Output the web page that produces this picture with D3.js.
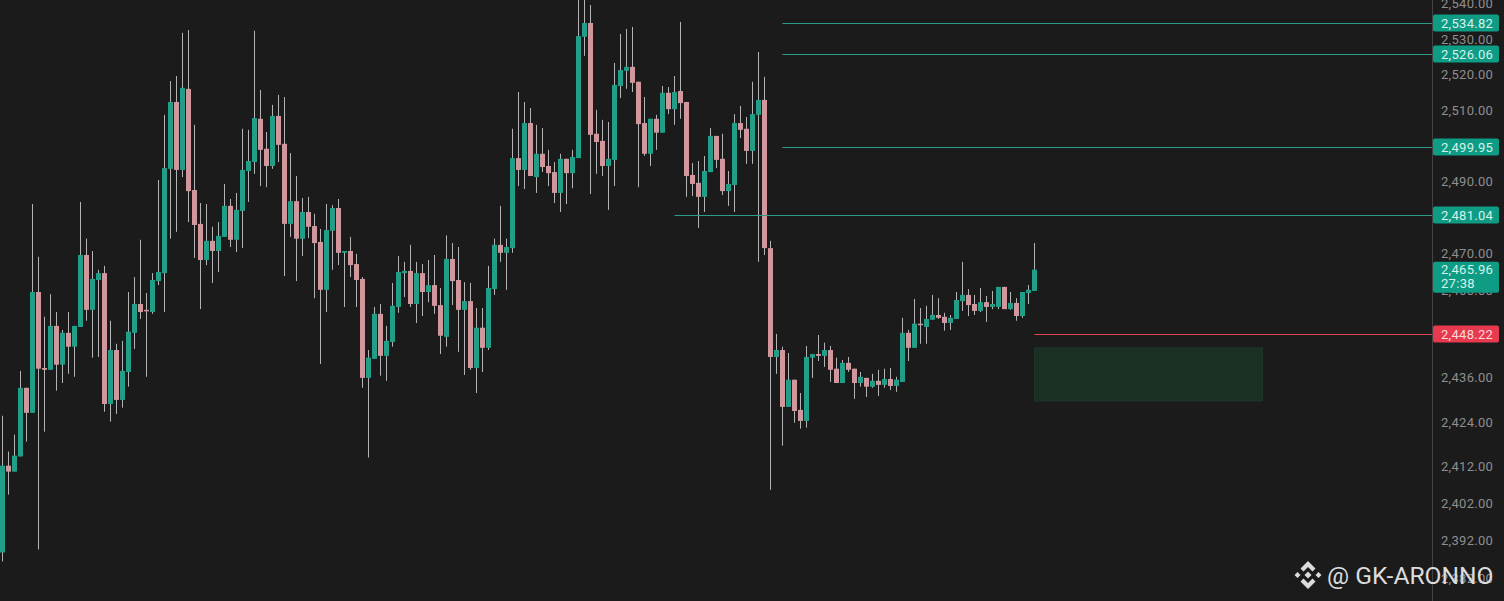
<!DOCTYPE html>
<html><head><meta charset="utf-8">
<script src="https://cdn.jsdelivr.net/npm/d3@7"></script>
<style>html,body{margin:0;padding:0;background:#1b1b1c;overflow:hidden}svg{display:block}</style>
</head><body><svg id="c" width="1504" height="601"></svg>
<script>
const opens=[2389.2,2412.5,2410.9,2415.0,2433.6,2426.8,2459.8,2439.0,2438.5,2450.5,2439.9,2448.6,2444.8,2450.2,2470.0,2454.9,2463.1,2465.0,2429.2,2443.9,2430.3,2437.9,2448.6,2456.5,2454.9,2454.3,2462.8,2465.0,2493.9,2512.6,2493.6,2516.3,2488.0,2478.6,2468.6,2473.9,2471.1,2475.0,2483.6,2474.2,2482.2,2493.3,2495.8,2507.9,2499.5,2494.7,2508.7,2500.9,2478.6,2484.9,2474.5,2481.9,2478.0,2473.6,2460.4,2476.7,2483.0,2470.6,2471.1,2467.5,2463.4,2436.3,2441.5,2453.8,2442.3,2446.1,2455.7,2465.0,2465.6,2456.5,2465.0,2459.8,2461.7,2456.2,2447.5,2468.9,2463.1,2454.9,2457.3,2439.0,2450.0,2444.5,2460.6,2472.8,2470.6,2471.9,2496.9,2493.6,2506.7,2491.6,2498.1,2494.7,2493.0,2487.2,2496.7,2492.7,2496.9,2531.0,2534.9,2503.7,2501.7,2494.7,2496.4,2517.1,2521.4,2522.5,2518.3,2506.7,2498.1,2507.9,2504.0,2515.2,2510.6,2515.7,2512.6,2492.2,2490.0,2486.1,2493.0,2503.1,2496.7,2487.7,2489.4,2506.7,2505.1,2498.9,2509.0,2513.2,2471.9,2442.0,2443.9,2428.4,2435.8,2427.6,2424.6,2441.8,2442.8,2442.3,2443.9,2438.8,2434.9,2440.4,2438.8,2434.9,2436.3,2433.9,2435.5,2434.4,2436.0,2434.1,2435.2,2448.6,2444.5,2451.1,2450.2,2452.2,2453.5,2453.0,2451.3,2452.4,2457.3,2459.0,2456.5,2454.6,2457.0,2455.7,2455.7,2461.2,2455.1,2456.8,2453.2,2459.5,2460.1];
const highs=[2426.0,2416.3,2420.9,2438.2,2433.6,2484.1,2469.5,2453.0,2459.2,2454.3,2449.4,2454.3,2450.5,2484.7,2474.5,2471.1,2465.9,2467.0,2451.9,2445.6,2446.4,2459.8,2463.9,2474.2,2459.5,2465.0,2490.8,2509.0,2518.5,2519.9,2532.1,2532.9,2506.2,2484.4,2484.1,2477.8,2479.1,2489.7,2485.5,2487.2,2505.1,2504.8,2532.7,2516.0,2504.2,2511.8,2514.6,2514.0,2498.3,2491.9,2485.8,2486.1,2481.4,2477.2,2484.1,2483.8,2485.5,2471.1,2475.0,2470.3,2463.9,2443.9,2455.7,2456.5,2450.5,2462.3,2469.7,2468.1,2472.8,2468.1,2467.5,2468.6,2470.0,2460.9,2475.4,2473.3,2472.2,2462.5,2462.3,2455.4,2455.4,2467.0,2474.5,2483.6,2474.5,2505.1,2515.4,2512.6,2510.9,2506.2,2505.3,2499.2,2495.8,2498.1,2496.7,2499.2,2542.3,2542.3,2540.0,2510.4,2507.6,2507.0,2523.6,2531.8,2533.2,2533.8,2518.3,2514.0,2507.9,2509.0,2517.1,2516.8,2519.9,2535.2,2512.6,2495.5,2496.1,2497.5,2505.3,2503.1,2503.7,2493.3,2509.2,2511.5,2508.4,2518.3,2526.7,2519.7,2473.9,2448.3,2444.8,2443.1,2435.8,2432.2,2445.0,2442.8,2448.0,2445.9,2445.0,2441.8,2441.2,2442.0,2438.8,2437.9,2436.3,2437.4,2438.5,2438.8,2439.0,2436.6,2452.7,2449.4,2457.9,2455.4,2456.0,2459.0,2458.1,2454.1,2453.5,2459.8,2468.1,2460.6,2459.0,2460.9,2458.7,2460.1,2461.2,2461.2,2459.8,2458.1,2459.8,2461.7,2473.3];
const lows=[2386.8,2404.7,2410.9,2415.0,2419.0,2426.8,2390.0,2421.7,2438.5,2432.8,2434.9,2437.4,2436.6,2450.2,2451.9,2441.8,2442.0,2427.1,2424.4,2426.5,2428.2,2433.9,2444.2,2452.4,2436.6,2453.8,2461.7,2454.3,2474.5,2476.4,2491.6,2479.1,2469.2,2455.1,2467.2,2462.3,2465.3,2475.0,2472.2,2470.8,2471.9,2484.7,2492.5,2489.1,2488.8,2493.9,2495.8,2464.2,2475.0,2462.8,2469.7,2474.7,2458.1,2440.1,2454.3,2465.9,2467.2,2455.7,2463.9,2455.7,2433.6,2414.7,2441.5,2436.9,2435.5,2444.8,2454.1,2458.4,2455.7,2451.3,2453.2,2457.0,2453.8,2442.8,2444.8,2456.2,2443.4,2437.1,2438.5,2432.2,2437.9,2443.9,2459.0,2468.1,2460.4,2470.6,2489.1,2488.3,2491.9,2487.2,2493.0,2489.1,2484.4,2481.9,2484.1,2488.5,2496.9,2525.6,2486.9,2492.5,2491.9,2482.5,2489.1,2513.7,2516.3,2515.4,2488.8,2497.5,2494.7,2499.2,2504.0,2509.2,2506.2,2507.9,2486.1,2486.3,2477.5,2481.9,2493.0,2494.1,2486.6,2483.6,2481.9,2502.5,2495.3,2495.3,2468.1,2470.0,2406.0,2437.4,2417.9,2428.4,2424.1,2422.5,2422.8,2436.3,2440.9,2439.3,2435.2,2434.9,2434.9,2437.9,2430.6,2433.9,2431.1,2433.6,2431.4,2433.6,2433.0,2432.5,2435.2,2440.9,2444.5,2445.6,2445.6,2452.2,2452.4,2449.2,2449.4,2452.4,2454.6,2453.2,2453.5,2454.3,2451.6,2455.1,2455.1,2455.1,2454.9,2451.9,2452.7,2456.5,2460.1];
const closes=[2412.5,2410.9,2415.2,2433.6,2426.8,2459.8,2438.8,2438.5,2450.5,2439.9,2448.6,2444.8,2450.5,2470.0,2454.9,2463.4,2465.0,2429.2,2443.9,2430.3,2438.2,2448.9,2456.5,2454.3,2454.6,2463.1,2465.3,2494.1,2512.6,2493.6,2516.6,2487.7,2478.3,2468.6,2473.9,2471.1,2475.3,2483.6,2474.2,2482.5,2493.6,2496.1,2508.1,2499.2,2494.7,2508.7,2500.6,2478.6,2484.9,2474.5,2481.9,2477.8,2473.3,2460.4,2476.9,2483.0,2470.6,2471.1,2467.2,2463.1,2436.3,2441.8,2453.8,2442.3,2446.4,2456.0,2465.3,2465.6,2456.5,2465.0,2459.8,2461.7,2456.0,2447.8,2468.9,2462.8,2454.9,2457.3,2439.0,2450.0,2444.5,2460.9,2472.8,2470.6,2472.2,2496.9,2493.6,2506.7,2491.9,2498.1,2494.4,2492.7,2487.2,2496.7,2492.7,2497.2,2531.2,2534.9,2503.4,2501.4,2494.7,2496.7,2517.4,2521.6,2522.5,2518.0,2506.4,2498.1,2507.9,2504.0,2515.2,2510.6,2515.4,2512.3,2491.9,2489.7,2486.1,2493.3,2503.1,2496.4,2487.7,2489.7,2506.7,2504.8,2498.9,2509.2,2513.2,2471.9,2442.0,2443.9,2428.4,2435.8,2427.3,2424.6,2442.0,2442.8,2442.3,2443.9,2438.5,2434.9,2440.4,2438.5,2434.9,2436.6,2433.9,2435.5,2434.4,2436.0,2434.1,2435.8,2448.6,2444.5,2451.1,2450.8,2452.4,2453.5,2452.7,2451.3,2452.7,2457.6,2459.0,2456.2,2454.6,2457.0,2455.7,2456.5,2461.2,2455.1,2456.8,2453.2,2459.8,2460.4,2465.96];
const tickPrices=[2540,2530,2520,2510,2490,2470,2460,2436,2424,2412,2402,2392,2382];
const levelPrices=[2534.82,2526.06,2499.95,2481.04];
const levelStarts=[130,130,130,112];
const resistancePrice=2448.22;
const lastPrice=2465.96;
const countdown="27:38";
const zonePrices=[2444.5,2430.0];
const zoneBars=[172,210];
const watermark="@ GK-ARONNO";

const GREEN="#219e87",PINK="#d1979c",WICK="#b4b4b6",TAG="#0e9c84",RED="#e73a4e",AXIS="#8e8e8f";
const FONT="Roboto, sans-serif";
const W=1504,H=601,axisX=1432.5,tagW=66;
const x=d3.scaleLinear().domain([0,172]).range([2.5,1034.5]);
const y=d3.scaleLog().domain([2540,2382]).range([5,579.5]);
const lineY=p=>Math.floor(y(p))+.5;
const svg=d3.select("#c");
svg.append("rect").attr("width",W).attr("height",H).attr("fill","#1b1b1c");
const candles=d3.range(opens.length).map(i=>({i,o:opens[i],h:highs[i],l:lows[i],c:closes[i]}));

// zone
svg.append("rect").attr("x",x(zoneBars[0])).attr("width",x(zoneBars[1])-x(zoneBars[0]))
  .attr("y",y(zonePrices[0])).attr("height",y(zonePrices[1])-y(zonePrices[0]))
  .attr("fill","#1c2f23").attr("stroke","#20352a").attr("stroke-width",1);

// candles
const g=svg.append("g");
g.selectAll("line.w").data(candles).join("line").attr("class","w")
  .attr("x1",d=>x(d.i)).attr("x2",d=>x(d.i)).attr("y1",d=>y(d.h)).attr("y2",d=>y(d.l))
  .attr("stroke",WICK).attr("stroke-width",1);
g.selectAll("rect.b").data(candles).join("rect").attr("class","b")
  .attr("x",d=>x(d.i)-2.5).attr("width",5)
  .attr("y",d=>y(Math.max(d.o,d.c)))
  .attr("height",d=>Math.max(1.5,Math.abs(y(d.o)-y(d.c))))
  .attr("fill",d=>d.c>=d.o?GREEN:PINK);

// level lines
svg.append("g").selectAll("line").data(levelPrices).join("line")
  .attr("x1",(d,i)=>x(levelStarts[i])).attr("x2",axisX)
  .attr("y1",d=>lineY(d)).attr("y2",d=>lineY(d))
  .attr("stroke","#2a9d88").attr("stroke-width",1);
svg.append("line").attr("x1",x(172)).attr("x2",axisX)
  .attr("y1",lineY(resistancePrice)).attr("y2",lineY(resistancePrice))
  .attr("stroke","#e04455").attr("stroke-width",1);

// axis
svg.append("line").attr("x1",axisX).attr("x2",axisX).attr("y1",0).attr("y2",H).attr("stroke","#434344");
const axis=svg.append("g").attr("transform",`translate(${axisX+8.5},-1.3)`)
  .call(d3.axisRight(y).tickValues(tickPrices).tickFormat(d3.format(",.2f")).tickSize(0).tickPadding(0));
axis.select(".domain").remove();
axis.selectAll("text").attr("fill",AXIS).attr("font-family",FONT).attr("font-size",13).attr("letter-spacing",0.3);

// tags
const fmt=d3.format(",.2f");
const tags=svg.append("g");
function tag(p,col,txtCol){
  const yy=lineY(p)-.5;
  tags.append("rect").attr("x",axisX+.5).attr("y",yy-8.5).attr("width",tagW).attr("height",17).attr("rx",2).attr("fill",col);
  tags.append("text").attr("x",axisX+8.5).attr("y",yy+.2).attr("dy","0.35em").attr("fill",txtCol)
    .attr("font-family",FONT).attr("font-size",13).attr("letter-spacing",0.3).text(fmt(p));
}
levelPrices.forEach(p=>tag(p,TAG,"#d5f2ec"));
tag(resistancePrice,RED,"#fbd9dd");
const ly=y(lastPrice);
tags.append("rect").attr("x",axisX+.5).attr("y",ly-8).attr("width",tagW).attr("height",31).attr("rx",2).attr("fill",TAG);
tags.append("text").attr("x",axisX+8.5).attr("y",ly).attr("dy","0.35em").attr("fill","#d5f2ec")
  .attr("font-family",FONT).attr("font-size",13).attr("letter-spacing",0.3).text(fmt(lastPrice));
tags.append("text").attr("x",axisX+8.5).attr("y",ly+14).attr("dy","0.35em").attr("fill","#d5f2ec")
  .attr("font-family",FONT).attr("font-size",13).attr("letter-spacing",0.3).text(countdown);

// watermark
const wm=svg.append("g");
const d=(cx,cy,r)=>`M${cx},${cy-r}L${cx+r},${cy}L${cx},${cy+r}L${cx-r},${cy}Z`;
const ic=[1308,575];
wm.append("path").attr("fill","#dcdcdc").attr("d",
  d(ic[0]-10.5,ic[1],3)+d(ic[0]+10.5,ic[1],3)+
  `M${ic[0]},${ic[1]-14}l7.5,7.5l-3,3l-4.5,-4.5l-4.5,4.5l-3,-3Z`+
  `M${ic[0]},${ic[1]+14}l7.5,-7.5l-3,-3l-4.5,4.5l-4.5,-4.5l-3,3Z`+
  `M${ic[0]},${ic[1]-3.5}l3.5,3.5l-3.5,3.5l-3.5,-3.5Z`);
wm.append("text").attr("x",1327).attr("y",575).attr("dy","0.35em").attr("fill","#dcdcdc")
  .attr("font-family",FONT).attr("font-size",24.6).text(watermark);
</script></body></html>
